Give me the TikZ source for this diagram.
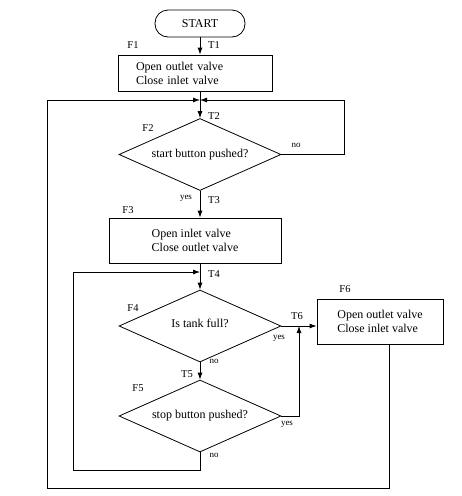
\documentclass[tikz,border=0pt]{standalone}
\usepackage{fontspec}
\setmainfont{Liberation Serif}
\usetikzlibrary{shapes.geometric, arrows.meta}

\begin{document}
\begin{tikzpicture}[x=1pt, y=-1pt, line width=0.8pt,
    box/.style={draw, rectangle, align=left, font=\fontsize{12}{14}\selectfont},
    test/.style={draw, diamond, aspect=2.25, inner sep=0pt, minimum width=162pt, minimum height=72pt,
      font=\fontsize{12}{14}\selectfont},
    tag/.style={font=\fontsize{10.5}{12}\selectfont, inner sep=1pt},
    ans/.style={font=\fontsize{9}{10}\selectfont, inner sep=1pt},
    go/.style={-{Latex[length=7pt, width=5pt]}}]
  \useasboundingbox (0, 0) rectangle (462, 496);

  % blocks
  \node[box, rounded corners=13pt, minimum width=90pt, minimum height=27pt] (start) at (200, 23.5) {START};
  \node[box, minimum width=154pt, minimum height=36pt, text width=118pt, inner xsep=18pt] (f1) at (195, 73)
    {Open outlet valve\\Close inlet valve};
  \node[test] (f2) at (200, 154.5) {start button pushed?};
  \node[box, minimum width=172pt, minimum height=45pt] (f3) at (195, 240.5)
    {Open inlet valve\\Close outlet valve};
  \node[test] (f4) at (200, 326) {\raisebox{5pt}{Is tank full?}};
  \node[test] (f5) at (200, 416) {\raisebox{3pt}{stop button pushed?}};
  \node[box, minimum width=126pt, minimum height=45pt] (f6) at (380, 321.5)
    {Open outlet valve\\Close inlet valve};

  % step and state labels
  \node[tag] (t1) at (214, 45) {T1};
  \node[tag] (t2) at (214, 116) {T2};
  \node[tag] (t3) at (214, 200) {T3};
  \node[tag] (t4) at (214, 274) {T4};
  \node[tag] (t5) at (187, 374) {T5};
  \node[tag] (t6) at (297, 316) {T6};
  \node[tag] (lf1) at (133, 45) {F1};
  \node[tag] (lf2) at (148, 128) {F2};
  \node[tag] (lf3) at (128, 210) {F3};
  \node[tag] (lf4) at (133, 308) {F4};
  \node[tag] (lf5) at (138, 388) {F5};
  \node[tag] (lf6) at (345, 289) {F6};
  \node[ans] (n2) at (296, 145) {no};
  \node[ans] (y2) at (186, 198) {yes};
  \node[ans] (y4) at (279, 338) {yes};
  \node[ans] (n4) at (214, 361) {no};
  \node[ans] (y5) at (287, 424) {yes};
  \node[ans] (n5) at (214, 455) {no};

  % junctions
  \coordinate (j1) at (200, 100);
  \coordinate (j2) at (200, 272);
  \coordinate (j6) at (299, 326);

  % connectors
  \draw[go] (start) -- (start |- f1.north);
  \draw (start |- f1.south) -- (j1);
  \draw[go] (j1) -- (f2.north);
  \draw[go] (f2.east) -- (344, 154.5) -- (344, 100) -- (j1);
  \draw[go] (f6.south -| 389, 0) -- (389, 488) -- (47, 488) -- (47, 100) -- (j1);
  \draw[go] (f2.south) -- (f2.south |- f3.north);
  \draw (f2.south |- f3.south) -- (j2);
  \draw[go] (j2) -- (f4.north);
  \draw[go] (f4.east) -- (f6.west |- f4.east);
  \draw[go] (f4.south) -- (f5.north);
  \draw[go] (f5.east) -- (j6 |- f5.east) -- (j6);
  \draw[go] (f5.south) -- (200, 470) -- (73, 470) -- (73, 272) -- (j2);
\end{tikzpicture}
\end{document}
